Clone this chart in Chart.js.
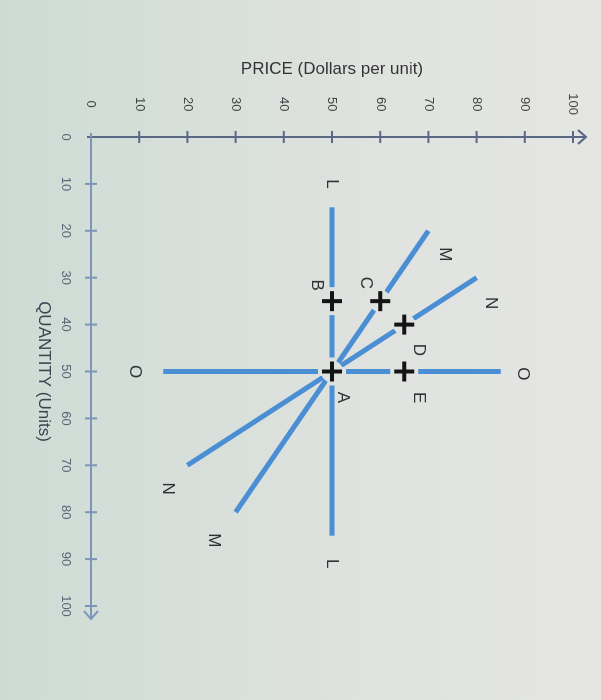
<!DOCTYPE html>
<html>
<head>
<meta charset="utf-8">
<script src="https://cdn.jsdelivr.net/npm/chart.js@4.4.1/dist/chart.umd.min.js"></script>
<style>
html,body{margin:0;padding:0;width:601px;height:700px;overflow:hidden;}
body{background:linear-gradient(to right,#ccdcd4 0%,#d7dfda 30%,#dfe2df 60%,#e5e6e4 100%);}
#wrap{position:absolute;left:0;top:0;width:700px;height:601px;transform-origin:0 0;transform:translate(601px,0) rotate(90deg);}
canvas{display:block;}
</style>
</head>
<body>
<div id="wrap"><canvas id="c" width="700" height="601"></canvas></div>
<script>
// ---- data (Quantity on x, Price on y) ----
const curveNames = ['L', 'M', 'N', 'O'];
const curveQuantity = [[15, 85], [20, 80], [30, 70], [50, 50]];
const curvePrice = [[50, 50], [70, 30], [80, 20], [15, 85]];

const pointNames = ['A', 'B', 'C', 'D', 'E'];
const pointQuantity = [50, 35, 35, 40, 50];
const pointPrice = [50, 50, 60, 65, 65];

const labelText = ['L', 'L', 'M', 'M', 'N', 'N', 'O', 'O', 'A', 'B', 'C', 'D', 'E'];
const labelQuantity = [10, 91, 25, 86, 35.4, 75, 50, 50.5, 55.5, 31.6, 31.1, 45.4, 55.6];
const labelPrice = [50, 50, 73.3, 25.5, 83, 16, 9, 89.5, 52.3, 46.9, 56.9, 67.9, 67.9];

const quantityTicks = [0, 10, 20, 30, 40, 50, 60, 70, 80, 90, 100];
const priceTicks = [0, 10, 20, 30, 40, 50, 60, 70, 80, 90, 100];

const quantityTitle = 'QUANTITY (Units)';
const priceTitle = 'PRICE (Dollars per unit)';

// ---- styling ----
const lineColor = '#4a8ed3';
Chart.defaults.font.family = "'Liberation Sans', Arial, sans-serif";

const datasets = [];
curveNames.forEach((name, i) => {
  datasets.push({
    label: name,
    data: curveQuantity[i].map((q, j) => ({ x: q, y: curvePrice[i][j] })),
    showLine: true,
    borderColor: lineColor,
    borderWidth: 5,
    borderCapStyle: 'butt',
    pointRadius: 0,
    order: 4
  });
});
const pts = pointNames.map((n, i) => ({ x: pointQuantity[i], y: pointPrice[i] }));
datasets.push({ label: 'gap1', data: pts, erase: true, showLine: false, pointStyle: 'circle',
  pointRadius: 11, pointBackgroundColor: '#000', pointBorderWidth: 0, order: 3 });
datasets.push({ label: 'gap2', data: pts, erase: true, showLine: false, pointStyle: 'cross',
  pointRadius: 14, pointBorderColor: '#000', pointBorderWidth: 9, order: 2 });
datasets.push({ label: 'points', data: pts, showLine: false, pointStyle: 'cross',
  pointRadius: 10, pointBorderColor: '#141414', pointBorderWidth: 4, order: 1 });

const gapPlugin = {
  id: 'gap',
  beforeDatasetDraw(chart, args) {
    if (chart.data.datasets[args.index].erase) {
      chart.ctx.save();
      chart.ctx.globalCompositeOperation = 'destination-out';
    }
  },
  afterDatasetDraw(chart, args) {
    if (chart.data.datasets[args.index].erase) chart.ctx.restore();
  }
};

const axesPlugin = {
  id: 'axes',
  beforeDatasetsDraw(chart) {
    const { ctx, scales: { x, y } } = chart;
    const x0 = x.getPixelForValue(0), y0 = y.getPixelForValue(0);
    const yTop = y.getPixelForValue(100) - 13;
    const xEnd = x.getPixelForValue(100) + 13;
    ctx.save();
    ctx.lineWidth = 2;
    // price axis
    ctx.strokeStyle = '#5a6787';
    ctx.beginPath(); ctx.moveTo(x0, y0 + 4); ctx.lineTo(x0, yTop); ctx.stroke();
    ctx.beginPath(); ctx.moveTo(x0 - 7, yTop + 8); ctx.lineTo(x0, yTop); ctx.lineTo(x0 + 7, yTop + 8); ctx.stroke();
    priceTicks.forEach(v => {
      if (v === 0) return;
      const p = y.getPixelForValue(v);
      ctx.beginPath(); ctx.moveTo(x0 - 6, p); ctx.lineTo(x0 + 6, p); ctx.stroke();
    });
    // quantity axis
    ctx.strokeStyle = '#7d95b9';
    ctx.beginPath(); ctx.moveTo(x0 - 4, y0); ctx.lineTo(xEnd, y0); ctx.stroke();
    ctx.beginPath(); ctx.moveTo(xEnd - 8, y0 - 7); ctx.lineTo(xEnd, y0); ctx.lineTo(xEnd - 8, y0 + 7); ctx.stroke();
    quantityTicks.forEach(v => {
      if (v === 0) return;
      const p = x.getPixelForValue(v);
      ctx.beginPath(); ctx.moveTo(p, y0 - 6); ctx.lineTo(p, y0 + 6); ctx.stroke();
    });
    ctx.restore();
  }
};

const labelPlugin = {
  id: 'labels',
  afterDatasetsDraw(chart) {
    const { ctx, scales: { x, y } } = chart;
    ctx.save();
    ctx.font = "17px 'Liberation Sans', Arial, sans-serif";
    ctx.fillStyle = '#2f3133';
    ctx.textAlign = 'center';
    ctx.textBaseline = 'middle';
    labelText.forEach((t, i) => {
      ctx.fillText(t, x.getPixelForValue(labelQuantity[i]), y.getPixelForValue(labelPrice[i]));
    });
    ctx.restore();
  }
};

new Chart(document.getElementById('c'), {
  type: 'scatter',
  data: { datasets },
  options: {
    responsive: false,
    animation: false,
    events: [],
    devicePixelRatio: 1,
    layout: { padding: { left: 0, top: 28, right: 94, bottom: 0 } },
    plugins: { legend: { display: false }, tooltip: { enabled: false } },
    scales: {
      x: {
        type: 'linear', position: 'bottom', min: 0, max: 100,
        afterBuildTicks(s) { s.ticks = quantityTicks.map(v => ({ value: v })); },
        afterFit(s) { s.height = 91; },
        grid: { display: false }, border: { display: false },
        ticks: { padding: 10, maxRotation: 0, minRotation: 0, autoSkip: false,
          color: '#596476', font: { size: 13 } },
        title: { display: true, text: quantityTitle, color: '#3d4452',
          font: { size: 17 }, padding: { top: 0, bottom: 33 } }
      },
      y: {
        type: 'linear', position: 'left', min: 0, max: 100,
        afterBuildTicks(s) { s.ticks = priceTicks.map(v => ({ value: v })); },
        afterFit(s) { s.width = 137; },
        grid: { display: false }, border: { display: false },
        ticks: { padding: 14, crossAlign: 'center', color: '#444', font: { size: 13 } },
        title: { display: true, text: priceTitle, color: '#333',
          font: { size: 17 }, padding: { top: 59, bottom: 0 } }
      }
    }
  },
  plugins: [gapPlugin, axesPlugin, labelPlugin]
});
</script>
</body>
</html>
